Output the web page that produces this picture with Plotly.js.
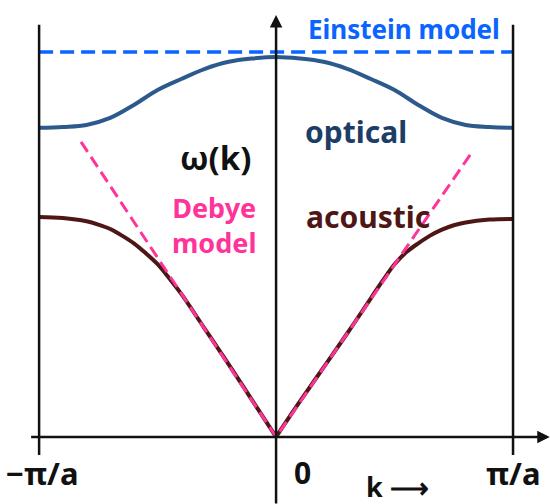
<!DOCTYPE html>
<html>
<head>
<meta charset="utf-8">
<script src="https://cdn.plot.ly/plotly-3.0.1.min.js"></script>
<style>
  html, body { margin: 0; padding: 0; background: #fff; }
  #plot { width: 550px; height: 504px; }
</style>
</head>
<body>
<div id="plot"></div>
<script>
// k in units of pi/a, omega scaled so the acoustic zone-edge value is ~1
var kAxis = [-1, -0.9, -0.8, -0.7, -0.6, -0.5, -0.4, -0.3, -0.2, -0.1, 0,
             0.1, 0.2, 0.3, 0.4, 0.5, 0.6, 0.7, 0.8, 0.9, 1];
var opticalW = [1.405, 1.409, 1.418, 1.45, 1.509, 1.577, 1.627, 1.673, 1.705, 1.72, 1.727,
                1.72, 1.705, 1.673, 1.627, 1.577, 1.509, 1.45, 1.418, 1.409, 1.405];
// acoustic branch, left and right halves (cusp at k = 0), denser where it bends
var kLeft = [-1, -0.9, -0.8, -0.75, -0.7, -0.65, -0.6, -0.55, -0.5, -0.45, -0.4, -0.3, -0.2, -0.1, 0];
var acousticLeft = [1.0, 0.995, 0.98, 0.965, 0.945, 0.915, 0.88, 0.835, 0.785, 0.72, 0.65, 0.49, 0.33, 0.165, 0];
var kRight = [0, 0.1, 0.2, 0.3, 0.4, 0.45, 0.5, 0.55, 0.6, 0.65, 0.7, 0.75, 0.8, 0.9, 1];
var acousticRight = [0, 0.16, 0.315, 0.47, 0.63, 0.71, 0.785, 0.84, 0.88, 0.915, 0.942, 0.962, 0.975, 0.988, 0.991];
// Debye lines: from top of each dashed line down to the origin and back up
var debyeK = [-0.823, 0, 0.827];
var debyeW = [1.341, 0, 1.295];
// Einstein level
var einsteinK = [-1, 1.004];
var einsteinW = [1.75, 1.75];

var FONT = '"Noto Sans", "Open Sans", sans-serif';
var ACOUSTIC = '#4f1616';

var optical = {
  x: kAxis, y: opticalW, type: 'scatter', mode: 'lines',
  line: {color: '#2d5a8c', width: 4, shape: 'spline', smoothing: 1}
};
var acL = {
  x: kLeft, y: acousticLeft, type: 'scatter', mode: 'lines',
  line: {color: ACOUSTIC, width: 4, shape: 'spline', smoothing: 1}
};
var acR = {
  x: kRight, y: acousticRight, type: 'scatter', mode: 'lines',
  line: {color: ACOUSTIC, width: 4, shape: 'spline', smoothing: 1}
};
var debye = {
  x: debyeK, y: debyeW, type: 'scatter', mode: 'lines',
  line: {color: '#ff3399', width: 3, dash: '12px,6px'}
};
var einstein = {
  x: einsteinK, y: einsteinW, type: 'scatter', mode: 'lines',
  line: {color: '#0a64ff', width: 3.5, dash: '14px,7px'}
};

function label(txt, x, y, size, color) {
  return {
    x: x, y: y, xref: 'x', yref: 'y', showarrow: false,
    text: '<b>' + txt + '</b>',
    font: {family: FONT, size: size, color: color},
    xanchor: 'center', yanchor: 'middle'
  };
}

var layout = {
  width: 550, height: 504,
  margin: {l: 0, r: 0, t: 0, b: 0},
  paper_bgcolor: '#fff', plot_bgcolor: '#fff',
  showlegend: false,
  xaxis: {range: [-1.165, 1.156], visible: false, fixedrange: true},
  yaxis: {range: [-0.305, 1.986], visible: false, fixedrange: true},
  shapes: [
    // zone boundaries
    {type: 'line', x0: -1, x1: -1, y0: -0.082, y1: 1.873, line: {color: '#111', width: 2.5}},
    {type: 'line', x0: 1, x1: 1, y0: -0.082, y1: 1.873, line: {color: '#111', width: 2.5}}
  ],
  annotations: [
    // k axis
    {x: 1.155, y: 0, ax: -1.04, ay: 0, axref: 'x', ayref: 'y', xref: 'x', yref: 'y',
     showarrow: true, arrowhead: 2, arrowsize: 1, arrowwidth: 2.5, arrowcolor: '#111', text: ''},
    // omega axis
    {x: 0, y: 1.918, ax: 0, ay: -0.31, axref: 'x', ayref: 'y', xref: 'x', yref: 'y',
     showarrow: true, arrowhead: 2, arrowsize: 1, arrowwidth: 2.5, arrowcolor: '#111', text: ''},
    label('Einstein model', 0.54, 1.855, 26, '#0a64ff'),
    label('optical', 0.338, 1.386, 30, '#1c3d66'),
    label('ω(k)', -0.257, 1.268, 33, '#111'),
    label('Debye<br>model', -0.262, 0.964, 27, '#ff3399'),
    label('acoustic', 0.389, 1.0, 30, ACOUSTIC),
    label('−π/a', -0.987, -0.164, 31, '#111'),
    label('0', 0.11, -0.164, 30, '#111'),
    label('π/a', 1.0, -0.164, 31, '#111'),
    label('k ⟶', 0.511, -0.225, 27, '#111')
  ]
};

Plotly.newPlot('plot', [einstein, optical, acL, acR, debye], layout, {staticPlot: true});
</script>
</body>
</html>
